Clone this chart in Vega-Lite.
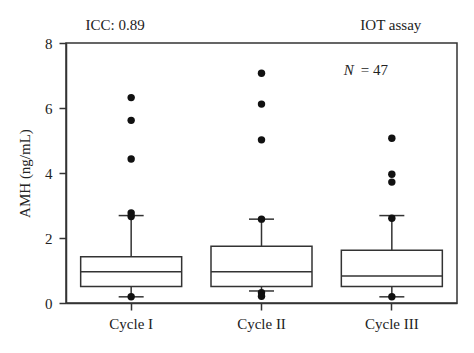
{
  "$schema": "https://vega.github.io/schema/vega-lite/v6.json",
  "width": 391,
  "height": 260,
  "autosize": "none",
  "padding": {"left": 66, "top": 43, "right": 17, "bottom": 50},
  "background": "white",
  "config": {
    "font": "Liberation Serif",
    "view": {"stroke": "#333333", "strokeWidth": 1.5},
    "axis": {
      "domainColor": "#333333", "domainWidth": 1.5,
      "tickColor": "#333333", "tickWidth": 1.5, "tickSize": 7,
      "labelFont": "Liberation Serif", "labelFontSize": 15, "labelColor": "#222222",
      "titleFont": "Liberation Serif", "titleFontSize": 15, "titleFontWeight": "normal", "titleColor": "#222222",
      "grid": false
    }
  },
  "datasets": {
    "boxes": [
      {"cycle": "Cycle I", "lower": 0.19, "q1": 0.51, "median": 0.96, "q3": 1.42, "upper": 2.69},
      {"cycle": "Cycle II", "lower": 0.37, "q1": 0.51, "median": 0.96, "q3": 1.75, "upper": 2.58},
      {"cycle": "Cycle III", "lower": 0.19, "q1": 0.51, "median": 0.83, "q3": 1.62, "upper": 2.69}
    ],
    "outliers": [
      {"cycle": "Cycle I", "amh": 6.32},
      {"cycle": "Cycle I", "amh": 5.62},
      {"cycle": "Cycle I", "amh": 4.43},
      {"cycle": "Cycle I", "amh": 2.77},
      {"cycle": "Cycle I", "amh": 2.66},
      {"cycle": "Cycle I", "amh": 0.19},
      {"cycle": "Cycle II", "amh": 7.07},
      {"cycle": "Cycle II", "amh": 6.12},
      {"cycle": "Cycle II", "amh": 5.02},
      {"cycle": "Cycle II", "amh": 2.58},
      {"cycle": "Cycle II", "amh": 0.32},
      {"cycle": "Cycle II", "amh": 0.21},
      {"cycle": "Cycle III", "amh": 5.07},
      {"cycle": "Cycle III", "amh": 3.96},
      {"cycle": "Cycle III", "amh": 3.72},
      {"cycle": "Cycle III", "amh": 2.61},
      {"cycle": "Cycle III", "amh": 0.19}
    ]
  },
  "encoding": {
    "x": {
      "field": "cycle", "type": "nominal",
      "scale": {"type": "band", "domain": ["Cycle I", "Cycle II", "Cycle III"], "paddingInner": 0, "paddingOuter": 0},
      "axis": {"title": null, "labelAngle": 0, "labelPadding": 6}
    }
  },
  "layer": [
    {
      "data": {"name": "boxes"},
      "mark": {"type": "rule", "color": "#333333", "strokeWidth": 1.5},
      "encoding": {
        "y": {"field": "lower", "type": "quantitative",
          "scale": {"domain": [0, 8], "nice": false, "zero": true},
          "axis": {"title": "AMH (ng/mL)", "values": [0, 2, 4, 6, 8], "labelPadding": 7, "titlePadding": 12}},
        "y2": {"field": "upper"}
      }
    },
    {
      "data": {"name": "boxes"},
      "mark": {"type": "bar", "size": 101, "fill": "white", "stroke": "#333333", "strokeWidth": 1.5},
      "encoding": {
        "y": {"field": "q1", "type": "quantitative"},
        "y2": {"field": "q3"}
      }
    },
    {
      "data": {"name": "boxes"},
      "mark": {"type": "tick", "size": 101, "thickness": 1.5, "color": "#333333", "opacity": 1},
      "encoding": {"y": {"field": "median", "type": "quantitative"}}
    },
    {
      "data": {"name": "boxes"},
      "mark": {"type": "tick", "size": 25, "thickness": 1.5, "color": "#333333", "opacity": 1},
      "encoding": {"y": {"field": "upper", "type": "quantitative"}}
    },
    {
      "data": {"name": "boxes"},
      "mark": {"type": "tick", "size": 25, "thickness": 1.5, "color": "#333333", "opacity": 1},
      "encoding": {"y": {"field": "lower", "type": "quantitative"}}
    },
    {
      "data": {"name": "outliers"},
      "mark": {"type": "circle", "size": 55, "color": "#111111", "opacity": 1},
      "encoding": {"y": {"field": "amh", "type": "quantitative"}}
    },
    {
      "data": {"values": [{}]},
      "mark": {"type": "text", "text": "ICC: 0.89", "fontSize": 15, "color": "#222222", "align": "center", "baseline": "middle", "dx": -16, "dy": -18, "clip": false},
      "encoding": {"x": {"datum": "Cycle I"}, "y": {"datum": 8}}
    },
    {
      "data": {"values": [{}]},
      "mark": {"type": "text", "text": "IOT assay", "fontSize": 15, "color": "#222222", "align": "center", "baseline": "middle", "dx": -1, "dy": -18, "clip": false},
      "encoding": {"x": {"datum": "Cycle III"}, "y": {"datum": 8}}
    },
    {
      "data": {"values": [{}]},
      "mark": {"type": "text", "text": "N", "fontSize": 15, "fontStyle": "italic", "color": "#222222", "align": "left", "baseline": "middle", "dx": -48},
      "encoding": {"x": {"datum": "Cycle III"}, "y": {"datum": 7.18}}
    },
    {
      "data": {"values": [{}]},
      "mark": {"type": "text", "text": "= 47", "fontSize": 15, "color": "#222222", "align": "left", "baseline": "middle", "dx": -31},
      "encoding": {"x": {"datum": "Cycle III"}, "y": {"datum": 7.18}}
    }
  ]
}
